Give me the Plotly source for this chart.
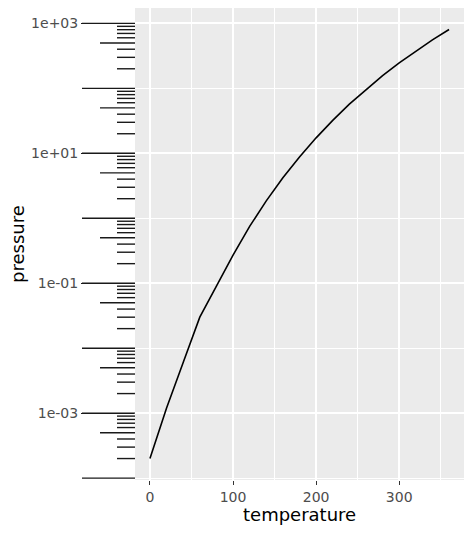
import plotly.graph_objects as go
import math

temperature = [0, 20, 40, 60, 80, 100, 120, 140, 160, 180, 200, 220, 240, 260, 280, 300, 320, 340, 360]
pressure = [0.0002, 0.0012, 0.0060, 0.0300, 0.0900, 0.2700, 0.7500, 1.8500, 4.2000, 8.8000,
            17.3000, 32.1000, 57.0000, 96.0000, 157.0000, 247.0000, 376.0000, 558.0000, 806.0000]

y_breaks = [1e-3, 1e-1, 1e1, 1e3]
y_labels = ["1e-03", "1e-01", "1e+01", "1e+03"]
y_minor = [1e-4, 1e-2, 1e0, 1e2]
x_breaks = [0, 100, 200, 300]
x_minor = [50, 150, 250, 350]
decades = [-4, -3, -2, -1, 0, 1, 2]

# ggplot-like expansion
lx0, lx1 = min(temperature), max(temperature)
ex = (lx1 - lx0) * 0.05
ly = [math.log10(p) for p in pressure]
ey = (max(ly) - min(ly)) * 0.05

fig = go.Figure()
fig.add_trace(go.Scatter(x=temperature, y=pressure, mode="lines",
                         line=dict(color="black", width=1.6), showlegend=False,
                         hoverinfo="skip"))

panel_w = 474 - 135 - 10
long_len, mid_len, short_len = 53, 35, 18
shapes = []
for d in decades + [3]:
    for m in range(1, 10):
        if d == 3 and m > 1:
            continue
        v = m * 10 ** d
        L = long_len if m == 1 else (mid_len if m == 5 else short_len)
        shapes.append(dict(type="line", xref="x domain", yref="y",
                           x0=-L / panel_w, x1=0, y0=v, y1=v,
                           line=dict(color="#1a1a1a", width=1.4)))

fig.update_layout(
    width=474, height=533,
    margin=dict(l=135, r=10, t=8, b=53),
    paper_bgcolor="white", plot_bgcolor="#EBEBEB",
    font=dict(family="DejaVu Sans", color="black"),
    shapes=shapes,
    annotations=[
        dict(text="temperature", xref="paper", yref="paper", x=0.5, y=-34 / 472,
             xanchor="center", yanchor="middle", showarrow=False, font=dict(size=18)),
        dict(text="pressure", xref="paper", yref="paper", x=-118 / panel_w, y=0.5,
             xanchor="center", yanchor="middle", textangle=-90, showarrow=False,
             font=dict(size=18)),
    ],
    xaxis=dict(
        range=[lx0 - ex, lx1 + ex], tickvals=x_breaks, ticks="outside", ticklen=4,
        tickcolor="#333333", tickwidth=1, showgrid=True, gridcolor="white", gridwidth=1.6,
        zeroline=False, showline=False, automargin=False,
        tickfont=dict(size=14, color="#4D4D4D"),
        minor=dict(tickvals=x_minor, showgrid=True, gridcolor="white", gridwidth=0.8, ticks=""),
    ),
    yaxis=dict(
        type="log", range=[min(ly) - ey, max(ly) + ey],
        tickvals=y_breaks, ticktext=y_labels, ticks="outside", ticklen=53,
        tickcolor="#1a1a1a", tickwidth=1.4, showgrid=True, gridcolor="white", gridwidth=1.6,
        zeroline=False, showline=False, automargin=False,
        tickfont=dict(size=14, color="#4D4D4D"),
        minor=dict(tickvals=y_minor, showgrid=True, gridcolor="white", gridwidth=0.8, ticks=""),
    ),
)

fig.write_html("out.html", config={"displayModeBar": False},
               post_script="document.body.style.margin='0';")
